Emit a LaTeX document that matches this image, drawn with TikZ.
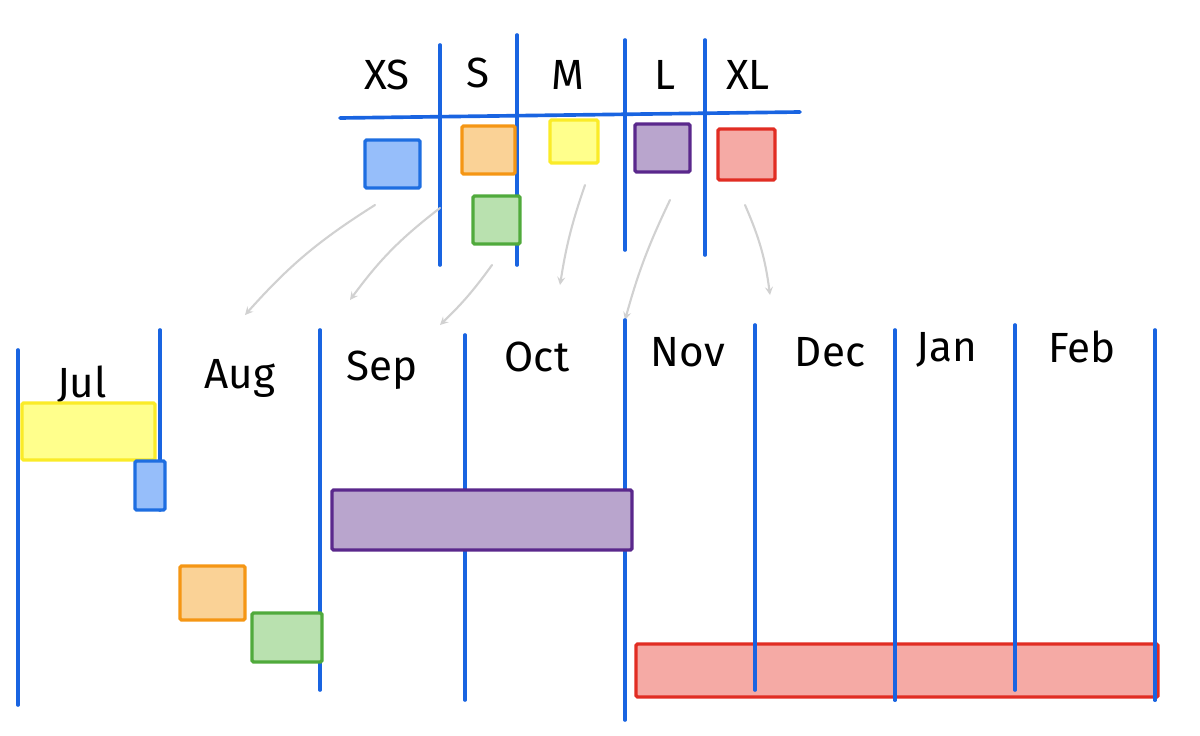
\documentclass[tikz,border=0pt]{standalone}
\usepackage{fontspec}
\setmainfont{Fira Sans}
\definecolor{lineblue}{RGB}{25,100,225}
\definecolor{pfill}{RGB}{185,165,205}
\definecolor{pdraw}{RGB}{90,40,140}
\definecolor{bfill}{RGB}{150,190,250}
\definecolor{bdraw}{RGB}{30,110,225}
\definecolor{ofill}{RGB}{250,210,150}
\definecolor{odraw}{RGB}{245,150,20}
\definecolor{yfill}{RGB}{255,255,140}
\definecolor{ydraw}{RGB}{250,235,40}
\definecolor{rfill}{RGB}{245,170,165}
\definecolor{rdraw}{RGB}{225,45,35}
\definecolor{gfill}{RGB}{185,225,175}
\definecolor{gdraw}{RGB}{80,170,60}
\begin{document}
\begin{tikzpicture}[x=0.025cm,y=-0.025cm,
  vline/.style={draw=lineblue, line width=2.6pt, line cap=round},
  hand/.style={font=\fontsize{30}{34}\selectfont},
  gar/.style={draw=black!18, line width=1.5pt, ->, >={stealth}, line cap=round},
  box/.style={line width=2.4pt, rounded corners=1pt}]
\useasboundingbox (0,0) rectangle (1200,735);
% top table
\coordinate (h1) at (340,118); \coordinate (h2) at (800,112);
\draw[vline] (h1) -- (h2);
\foreach \n/\x/\a/\b in {t1/440/45/265, t2/517/35/265, t3/625/40/250, t4/705/40/255}
  \draw[vline] (\x,\a) coordinate (\n a) -- (\x,\b) coordinate (\n b);
\node[hand] (xs) at (387,75) {XS};
\node[hand] (s) at (478,73) {S};
\node[hand] (m) at (568,75) {M};
\node[hand] (l) at (665,75) {L};
\node[hand] (xl) at (748,75) {XL};
% legend squares
\draw[box, draw=bdraw, fill=bfill] (365,140) rectangle (420,188);
\draw[box, draw=odraw, fill=ofill] (462,126) rectangle (515,174);
\draw[box, draw=ydraw, fill=yfill] (550,120) rectangle (598,163);
\draw[box, draw=pdraw, fill=pfill] (635,124) rectangle (690,172);
\draw[box, draw=rdraw, fill=rfill] (718,129) rectangle (775,180);
\draw[box, draw=gdraw, fill=gfill] (473,196) rectangle (520,244);
% arrows
\draw[gar] (375,205) to[bend right=8] (245,315);
\draw[gar] (440,208) to[bend right=8] (350,300);
\draw[gar] (492,265) to[bend left=5] (440,325);
\draw[gar] (585,185) to[bend right=5] (560,285);
\draw[gar] (670,200) to[bend right=5] (625,320);
\draw[gar] (745,205) to[bend left=8] (770,295);
% month grid
\foreach \n/\x/\a/\b in {m0/18/350/705, m1/160/330/510, m2/320/330/690, m3/465/335/700, m4/625/320/720, m5/755/325/690, m6/895/330/700, m7/1015/325/690, m8/1155/330/700}
  \draw[vline] (\x,\a) coordinate (\n a) -- (\x,\b) coordinate (\n b);
\node[hand] (jul) at (82,385) {Jul};
\node[hand] (aug) at (240,378) {Aug};
\node[hand] (sep) at (382,370) {Sep};
\node[hand] (oct) at (537,357) {Oct};
\node[hand] (nov) at (688,352) {Nov};
\node[hand] (dec) at (830,352) {Dec};
\node[hand] (jan) at (947,350) {Jan};
\node[hand] (feb) at (1082,347) {Feb};
% bars
\draw[box, draw=ydraw, fill=yfill] (22,403) rectangle (155,460);
\draw[box, draw=bdraw, fill=bfill] (135,461) rectangle (165,510);
\draw[box, draw=pdraw, fill=pfill] (332,490) rectangle (632,550);
\draw[box, draw=odraw, fill=ofill] (180,566) rectangle (245,620);
\draw[box, draw=gdraw, fill=gfill] (252,613) rectangle (322,662);
\draw[box, draw=rdraw, fill=rfill] (636,644) rectangle (1158,697);
\foreach \x/\a/\b in {755/640/690, 895/640/700, 1015/640/690, 1155/640/700}
  \draw[vline] (\x,\a) -- (\x,\b);
\end{tikzpicture}
\end{document}
